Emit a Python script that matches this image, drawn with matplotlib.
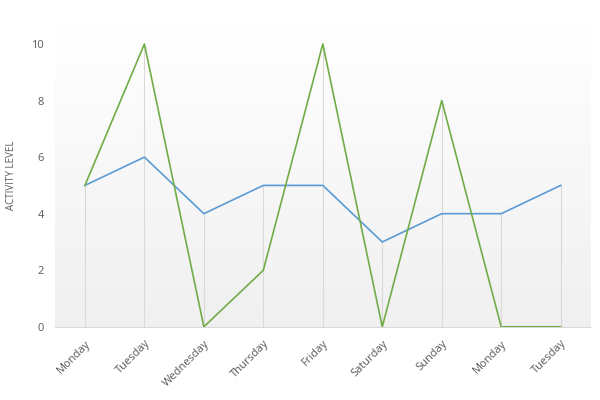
import matplotlib
matplotlib.use("Agg")
import matplotlib.pyplot as plt
import numpy as np

days = ["Monday","Tuesday","Wednesday","Thursday","Friday","Saturday","Sunday","Monday","Tuesday"]
blue = [5,6,4,5,5,3,4,4,5]
green = [5,10,0,2,10,0,8,0,0]

plt.rcParams['font.family'] = ['Open Sans','DejaVu Sans']
fig = plt.figure(figsize=(6,4), dpi=100)
ax = fig.add_axes([0.092, 0.183, 0.892, 0.76])
x = np.arange(len(days))
top = 10.75
ax.set_xlim(-0.5, len(days)-0.5)
ax.set_ylim(0, top)
grad = np.linspace(0, 1, 256).reshape(-1, 1)
ax.imshow(grad, extent=[-0.5, len(days)-0.5, 0, top], aspect='auto',
          cmap=matplotlib.colors.LinearSegmentedColormap.from_list('g', ['#f0f0f0', '#ffffff']),
          origin='lower', zorder=0)
tops = np.maximum(blue, green)
ax.vlines(x, 0, tops, color='#d9d9d9', lw=0.8, zorder=1)
ax.plot(x, blue, color='#5B9BD5', lw=1.2, zorder=3)
ax.plot(x, green, color='#70AD47', lw=1.2, zorder=3)
for s in ['top','right','left']:
    ax.spines[s].set_visible(False)
ax.spines['bottom'].set_color('#d9d9d9')
ax.set_xticks(x)
ax.set_xticklabels(days, rotation=45, ha='right', rotation_mode='anchor', fontsize=8, color='#595959')
ax.set_yticks(range(0, 11, 2))
ax.set_yticklabels([str(v) for v in range(0, 11, 2)], fontsize=8, color='#595959')
ax.tick_params(length=0, pad=8)
ax.set_ylabel("ACTIVITY LEVEL", fontsize=7, color='#595959', labelpad=10)
fig.savefig("out.png")
